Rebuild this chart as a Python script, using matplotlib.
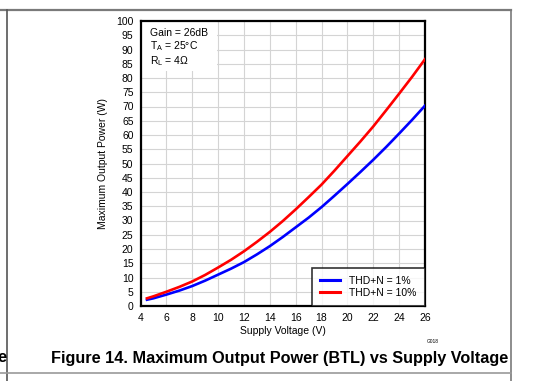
import matplotlib
matplotlib.use("Agg")
import matplotlib.pyplot as plt
from matplotlib.lines import Line2D

plt.rcParams["font.family"] = ["Liberation Sans", "DejaVu Sans"]

# ---- data -------------------------------------------------------------
supply_v = [4.5, 5, 6, 7, 8, 9, 10, 11, 12, 13, 14, 15, 16, 17, 18, 19,
            20, 21, 22, 23, 24, 25, 26]
p_thd1 = [2.2, 2.7, 4.0, 5.4, 7.0, 8.9, 11.0, 13.1, 15.4, 18.1, 21.0, 24.2,
          27.6, 31.0, 34.7, 38.7, 42.8, 47.0, 51.3, 55.8, 60.5, 65.3, 70.3]
p_thd10 = [2.7, 3.4, 5.0, 6.7, 8.6, 10.9, 13.5, 16.2, 19.2, 22.5, 26.0, 29.8,
           33.9, 38.2, 42.6, 47.5, 52.6, 57.7, 63.0, 68.7, 74.5, 80.4, 86.6]
series_labels = ["THD+N = 1%", "THD+N = 10%"]
x_ticks = list(range(4, 27, 2))
y_ticks = list(range(0, 101, 5))

W, H = 542, 381
fig = plt.figure(figsize=(W / 100, H / 100), dpi=100)

# screenshot frame lines (figure pixel coords -> fraction)
def fx(px):
    return px / W

def fy(py):
    return 1 - py / H

fig.add_artist(Line2D([0, fx(511)], [fy(9.5), fy(9.5)], color="#7a7a7a", lw=1.6))
fig.add_artist(Line2D([fx(7.3), fx(7.3)], [fy(9.5), 0], color="#555555", lw=1.2))
fig.add_artist(Line2D([fx(511), fx(511)], [fy(9.5), 0], color="#7a7a7a", lw=1.2))
fig.add_artist(Line2D([0, fx(511)], [fy(373), fy(373)], color="#9a9a9a", lw=1.2))
fig.text(fx(-2.5), fy(358), "e", fontsize=12, fontweight="bold", ha="left", va="center")

ax = fig.add_axes([fx(140.5), fy(306), fx(425) - fx(140.5), fy(21) - fy(306)])
ax.plot(supply_v, p_thd1, color="#0000ff", lw=1.9, label=series_labels[0], zorder=3)
ax.plot(supply_v, p_thd10, color="#ff0000", lw=1.9, label=series_labels[1], zorder=3)

ax.set_xlim(4, 26)
ax.set_ylim(0, 100)
ax.set_xticks(x_ticks)
ax.set_yticks(y_ticks)
ax.tick_params(length=0, labelsize=7.5, pad=5)
ax.grid(True, color="#d4d4d4", lw=0.8)
ax.set_axisbelow(True)
for s in ax.spines.values():
    s.set_linewidth(1.6)
    s.set_color("black")

ax.set_xlabel("Supply Voltage (V)", fontsize=7.5, labelpad=2)
ax.set_ylabel("Maximum Output Power (W)", fontsize=7.5, labelpad=6)

# white box behind the conditions text
ax.add_patch(plt.Rectangle((4, 82.5), 5.9, 17.5, transform=ax.transData,
                           facecolor="white", edgecolor="none", zorder=2))
ax.text(0.035, 0.975, "Gain = 26dB\nT$_\\mathregular{A}$ = 25°C\nR$_\\mathregular{L}$ = 4Ω",
        transform=ax.transAxes, fontsize=7.5, va="top", ha="left",
        linespacing=1.1, zorder=4)

leg = ax.legend(loc="lower right", fontsize=7.5, frameon=True, fancybox=False,
                borderaxespad=0, handlelength=1.9, handletextpad=0.9,
                borderpad=0.8, labelspacing=0.15)
leg.get_frame().set_edgecolor("black")
leg.get_frame().set_linewidth(1.2)
for h in leg.get_lines():
    h.set_linewidth(2.2)

fig.text(fx(432.6), fy(341.5), "G018", fontsize=3.5, ha="center", va="center")
fig.text(fx(280), fy(358), "Figure 14. Maximum Output Power (BTL) vs Supply Voltage",
         fontsize=11.7, fontweight="bold", ha="center", va="center")

fig.savefig("out.png", dpi=100)
